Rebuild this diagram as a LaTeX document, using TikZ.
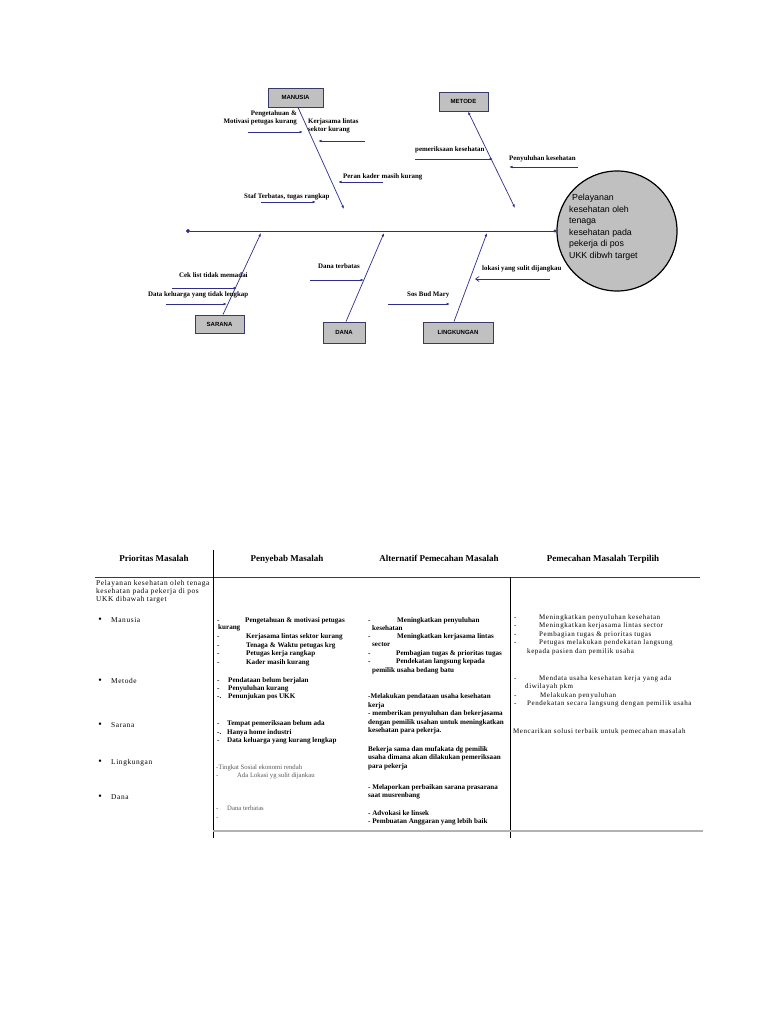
\documentclass[tikz,border=0pt]{standalone}
\usepackage{fontspec}
\setmainfont{Liberation Serif}
\setsansfont{Liberation Sans}
\newfontfamily\wideserif[LetterSpace=8]{Liberation Serif}
\usepackage{xcolor}
\definecolor{fishnavy}{HTML}{2E2E8F}
\definecolor{boxfill}{HTML}{C0C0C0}
\definecolor{boxline}{HTML}{3A3A6A}
\definecolor{rulecol}{HTML}{3C3C3C}
\definecolor{faint}{HTML}{5A5A5A}
\usepackage{tikz}
\usetikzlibrary{arrows.meta,calc}

\begin{document}
\begin{tikzpicture}[x=1pt,y=-1pt,
  boneline/.style={draw=fishnavy,line width=0.7pt},
  tipped/.style={-{Latex[length=3.5pt,width=2.6pt]}},
  catbox/.style={draw=boxline,fill=boxfill,line width=0.9pt,inner sep=0pt,font=\sffamily\bfseries\fontsize{6}{7}\selectfont},
  cause/.style={inner sep=0pt,font=\bfseries\fontsize{6.9}{8}\selectfont},
  cell/.style={inner sep=0pt,anchor=base west,font=\bfseries\fontsize{7.1}{8}\selectfont},
  faintcell/.style={inner sep=0pt,anchor=base west,text=faint,font=\fontsize{6.7}{8}\selectfont},
  widecell/.style={inner sep=0pt,anchor=base west,font=\wideserif\fontsize{7}{8}\selectfont},
  prio/.style={widecell,font=\wideserif\fontsize{7.4}{8}\selectfont},
  head/.style={inner sep=0pt,anchor=base,font=\bfseries\fontsize{9}{10}\selectfont}]
  \fill[white] (0,0) rectangle (768,1024);
  \useasboundingbox (0,0) rectangle (768,1024);

  % fishbone: categories and effect
  \node[catbox,minimum width=55pt,minimum height=19pt] (mns) at (295.5,97.5) {MANUSIA};
  \node[catbox,minimum width=49pt,minimum height=19pt] (mtd) at (463.5,101.5) {METODE};
  \node[catbox,minimum width=49pt,minimum height=18pt] (srn) at (219.5,324) {SARANA};
  \node[catbox,minimum width=42pt,minimum height=21pt] (dna) at (344,332.5) {DANA};
  \node[catbox,minimum width=70pt,minimum height=21pt] (lkg) at (458,332.5) {LINGKUNGAN};
  \node[circle,draw,fill=boxfill,line width=1.2pt,minimum size=120pt] (goal) at (617,231) {};
  \node[anchor=north west,align=left,inner sep=0pt,font=\sffamily\fontsize{8.8}{11.5}\selectfont] (goaltxt) at (569,194)
    {\hspace{3pt}Pelayanan\\kesehatan oleh\\tenaga\\kesehatan pada\\pekerja di pos\\UKK dibwh target};

  % spine and bones
  \coordinate (tail) at (186,231);
  \draw[boneline,{Circle[length=4pt]}-{Circle[length=3pt]}] (tail) -- (goal.west);
  \coordinate (mnsend) at (344,209);
  \coordinate (mtdend) at (515,208);
  \coordinate (srnend) at (261,233);
  \coordinate (dnaend) at (384,233);
  \coordinate (lkgend) at (487,233);
  \draw[boneline,tipped] ([xshift=2.5pt]mns.south) -- (mnsend);
  \draw[boneline,{Latex[length=3.5pt,width=2.6pt]}-{Latex[length=3.5pt,width=2.6pt]}] ([xshift=4.5pt]mtd.south) -- (mtdend);
  \draw[boneline,tipped] ([xshift=3.5pt]srn.north) -- (srnend);
  \draw[boneline,tipped] ([xshift=2pt]dna.north) -- (dnaend);
  \draw[boneline,tipped] ([xshift=-4pt]lkg.north) -- (lkgend);

  % causes
  \foreach \n/\xa/\xb/\yy in {m1/248/303/132, m2/365/318/141, m3/383/338/182, m4/261/316/202,
      t1/415/493/159, t2/578/509/167, s1/172/237/288, s2/166/227/304, d1/310/364/280, l1/388/450/304} {
    \coordinate (\n-s) at (\xa,\yy);
    \coordinate (\n-e) at (\xb,\yy);
    \draw[boneline,tipped] (\n-s) -- (\n-e);
  }
  \coordinate (l2-s) at (550,279);
  \coordinate (l2-e) at (475,279);
  \draw[boneline,-{Straight Barb[length=3.5pt,width=5pt]}] (l2-s) -- (l2-e);

  \node[cause,align=right,anchor=north east] (m1l) at (297,111) {Pengetahuan \&\\Motivasi petugas kurang};
  \node[cause,align=left,anchor=north west] (m2l) at (308,119) {Kerjasama lintas\\sektor kurang};
  \node[cause,anchor=north west] (m3l) at (343,174) {Peran kader masih kurang};
  \node[cause,anchor=north west] (m4l) at (244,193) {Staf Terbatas, tugas rangkap};
  \node[cause,anchor=north west] (t1l) at (415,147) {pemeriksaan kesehatan};
  \node[cause,anchor=north west] (t2l) at (509,156) {Penyuluhan kesehatan};
  \node[cause,anchor=north west] (s1l) at (179,273) {Cek list tidak memadai};
  \node[cause,anchor=north west] (s2l) at (148,292) {Data keluarga yang tidak lengkap};
  \node[cause,anchor=north west] (d1l) at (318,264) {Dana terbatas};
  \node[cause,anchor=north west] (l1l) at (407,292) {Sos Bud Mary};
  \node[cause,anchor=north west] (l2l) at (482,266) {lokasi yang sulit dijangkau};

  % table
  \draw[rulecol,line width=1pt] (95,577) -- (700,577);
  \draw[line width=0.8pt] (213,550) -- (213,838);
  \draw[line width=0.8pt] (510,577) -- (510,838);
  \draw[gray!60,line width=1.4pt] (213,831) -- (703,831);

  \node[head] (h1) at (154,561) {Prioritas Masalah};
  \node[head] (h2) at (287,561) {Penyebab Masalah};
  \node[head] (h3) at (439,561) {Alternatif Pemecahan Masalah};
  \node[head] (h4) at (603,561) {Pemecahan Masalah Terpilih};

  \foreach \y/\t [count=\i] in {585.5/{Pelayanan kesehatan oleh tenaga}, 593.5/{kesehatan pada pekerja di pos}, 601.5/{UKK dibawah target}}
    \node[prio] (pm\i) at (96,\y) {\t};
  \foreach \y/\t in {622/Manusia, 683/Metode, 727/Sarana, 764/Lingkungan, 799/Dana} {
    \node[prio,font=\fontsize{10}{8}\selectfont,anchor=base] (dot\t) at (100,\y) {\textbullet};
    \node[prio] (cat\t) at (111,\y) {\t};
  }

  \foreach \x/\y/\t [count=\i] in {217/622/-, 245/622/{Pengetahuan \& motivasi petugas}, 218/629.5/kurang,
      217/638.5/-, 246/638.5/{Kerjasama lintas sektor kurang}, 217/647/-, 246/647/{Tenaga \& Waktu petugas krg},
      217/655.5/-, 246/655.5/{Petugas kerja rangkap}, 217/664/-, 246/664/{Kader masih kurang},
      217/682/-, 228/682/{Pendataan belum berjalan}, 217/690/-, 228/690/{Penyuluhan kurang},
      217/698.5/-., 228/698.5/{Penunjukan pos UKK},
      217/725.5/-, 227/725.5/{Tempat pemeriksaan belum ada}, 217/734/-., 227/734/{Hanya home industri},
      217/742.5/-, 227/742.5/{Data keluarga yang kurang lengkap}}
    \node[cell] (pb\i) at (\x,\y) {\t};
  \foreach \x/\y/\t [count=\i] in {216/769.5/{-Tingkat Sosial ekonomi rendah}, 216/777/-, 237/777/{Ada Lokasi yg sulit dijankau},
      216/810/-, 227/810/{Dana terbatas}, 216/819/-}
    \node[faintcell] (pf\i) at (\x,\y) {\t};

  \foreach \x/\y/\t [count=\i] in {368/622/-, 397/622/{Meningkatkan penyuluhan}, 372/630/kesehatan,
      368/638/-, 397/638/{Meningkatkan kerjasama lintas}, 372/646/sector,
      368/655/-, 396/655/{Pembagian tugas \& prioritas tugas},
      368/663/-, 396/663/{Pendekatan langsung kepada}, 372/672/{pemilik usaha bedang batu},
      368/698/{-Melakukan pendataan usaha kesehatan}, 368/707/kerja,
      368/715.5/{- memberikan penyuluhan dan bekerjasama}, 368/724/{dengan pemilik usahan untuk meningkatkan},
      368/732.5/{kesehatan para pekerja.},
      368/751/{Bekerja sama dan mufakata dg pemilik}, 368/759.5/{usaha dimana akan dilakukan pemeriksaan},
      368/768/{para pekerja},
      368/789/{- Melaporkan perbaikan sarana prasarana}, 368/797.5/{saat musrenbang},
      368/815/{- Advokasi ke linsek}, 368/823.5/{- Pembuatan Anggaran yang lebih baik}}
    \node[cell] (al\i) at (\x,\y) {\t};

  \foreach \x/\y/\t [count=\i] in {514/619/-, 539/619/{Meningkatkan penyuluhan kesehatan},
      514/627.5/-, 539/627.5/{Meningkatkan kerjasama lintas sector},
      514/636/-, 539/636/{Pembagian tugas \& prioritas tugas},
      514/644.5/-, 539/644.5/{Petugas melakukan pendekatan langsung}, 527/653/{kepada pasien dan pemilik usaha},
      514/680/-, 539/680/{Mendata usaha kesehatan kerja yang ada}, 525/688.5/{diwilayah pkm},
      514/697/-, 540/697/{Melakukan penyuluhan},
      514/705.5/-, 527/705.5/{Pendekatan secara langsung dengan pemilik usaha},
      513/733.5/{Mencarikan solusi terbaik untuk pemecahan masalah}}
    \node[widecell] (tp\i) at (\x,\y) {\t};
\end{tikzpicture}
\end{document}
